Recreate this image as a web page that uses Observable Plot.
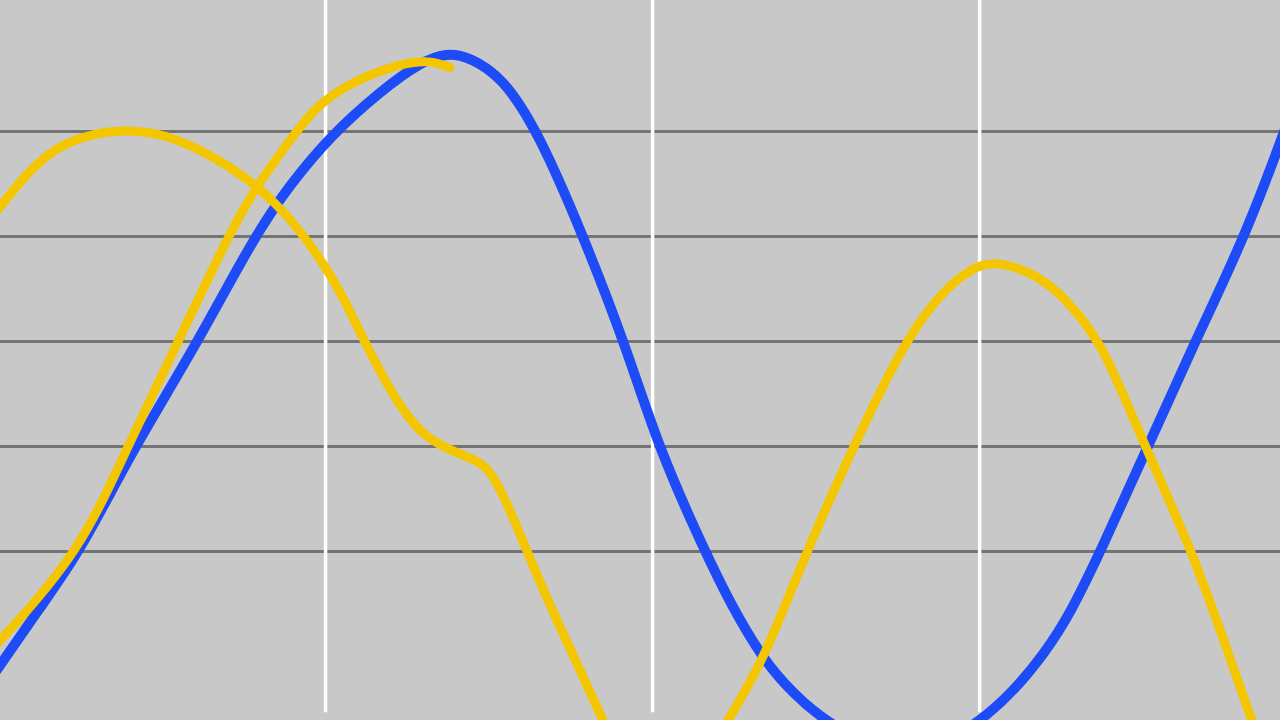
<!DOCTYPE html>
<html>
<head>
<meta charset="utf-8">
<script src="https://cdn.jsdelivr.net/npm/d3@7"></script>
<script src="https://cdn.jsdelivr.net/npm/@observablehq/plot@0.6"></script>
<style>
  html, body { margin: 0; padding: 0; background: #c8c8c8; overflow: hidden; }
  #chart svg { display: block; }
</style>
</head>
<body>
<div id="chart"></div>
<script>
// Blue series (x, y)
const blueX = [-0.05, 0.006, 0.13, 0.25, 0.41, 0.60, 0.78, 0.89, 1.015, 1.17, 1.29, 1.37, 1.44, 1.54, 1.65, 1.79, 1.92, 2.02, 2.16, 2.24, 2.34, 2.43, 2.52, 2.77, 3.04, 3.21, 3.28, 3.37, 3.51, 3.65, 3.81, 3.92, 3.98];
const blueY = [-0.33, -0.08, 0.48, 1.00, 1.97, 2.94, 3.99, 4.49, 4.96, 5.39, 5.66, 5.75, 5.71, 5.52, 5.00, 3.99, 2.94, 1.97, 1.00, 0.49, -0.04, -0.35, -0.61, -1.04, -0.58, 0.07, 0.43, 1.00, 1.97, 2.94, 3.99, 4.90, 5.42];

// Yellow series, first segment
const yellowAX = [-0.05, 0.006, 0.107, 0.211, 0.364, 0.517, 0.67, 0.79, 0.90, 0.99, 1.05, 1.12, 1.21, 1.29, 1.37, 1.45, 1.50, 1.56, 1.62, 1.70, 1.78, 1.84, 1.89];
const yellowAY = [4.07, 4.29, 4.68, 4.92, 5.03, 4.98, 4.74, 4.49, 4.15, 3.76, 3.45, 2.99, 2.46, 2.12, 1.98, 1.88, 1.80, 1.43, 0.97, 0.39, -0.14, -0.55, -0.90];

// Yellow series, second segment
const yellowBX = [-0.05, 0.006, 0.25, 0.39, 0.54, 0.70, 0.78, 0.88, 0.97, 1.09, 1.23, 1.32, 1.38];
const yellowBY = [-0.02, 0.15, 1.00, 1.97, 2.94, 3.99, 4.44, 4.87, 5.25, 5.49, 5.65, 5.68, 5.61];

// Yellow series, third segment
const yellowCX = [2.17, 2.23, 2.34, 2.47, 2.61, 2.76, 2.87, 2.98, 3.06, 3.21, 3.31, 3.38, 3.51, 3.65, 3.74, 3.83, 3.865];
const yellowCY = [-0.92, -0.61, -0.04, 1.00, 1.97, 2.94, 3.43, 3.72, 3.77, 3.59, 3.23, 2.94, 1.97, 1.00, 0.21, -0.58, -0.92];

// Grid positions
const xGrid = [1, 2, 3];
const yGrid = [1, 2, 3, 4, 5];

const toRows = (xs, ys, seg) => xs.map((x, i) => ({x, y: ys[i], seg}));
const blue = toRows(blueX, blueY, "blue");
const yellow = [
  ...toRows(yellowAX, yellowAY, "A"),
  ...toRows(yellowBX, yellowBY, "B"),
  ...toRows(yellowCX, yellowCY, "C")
];

const chart = Plot.plot({
  width: 1280,
  height: 720,
  margin: 0,
  style: {background: "#c8c8c8"},
  x: {domain: [0.006, 3.92], axis: null},
  y: {domain: [-0.61, 6.248], axis: null},
  marks: [
    Plot.ruleY(yGrid, {stroke: "#747474", strokeWidth: 3}),
    Plot.ruleX(xGrid, {stroke: "#ffffff", strokeWidth: 3.5, y1: -0.535, y2: 6.248}),
    Plot.line(blue, {x: "x", y: "y", stroke: "#1c4bf7", strokeWidth: 10, curve: "basis", clip: true, strokeLinecap: "round"}),
    Plot.line(yellow, {x: "x", y: "y", z: "seg", stroke: "#f4c600", strokeWidth: 9, curve: "basis", clip: true, strokeLinecap: "round"})
  ]
});
document.getElementById("chart").append(chart);
</script>
</body>
</html>
